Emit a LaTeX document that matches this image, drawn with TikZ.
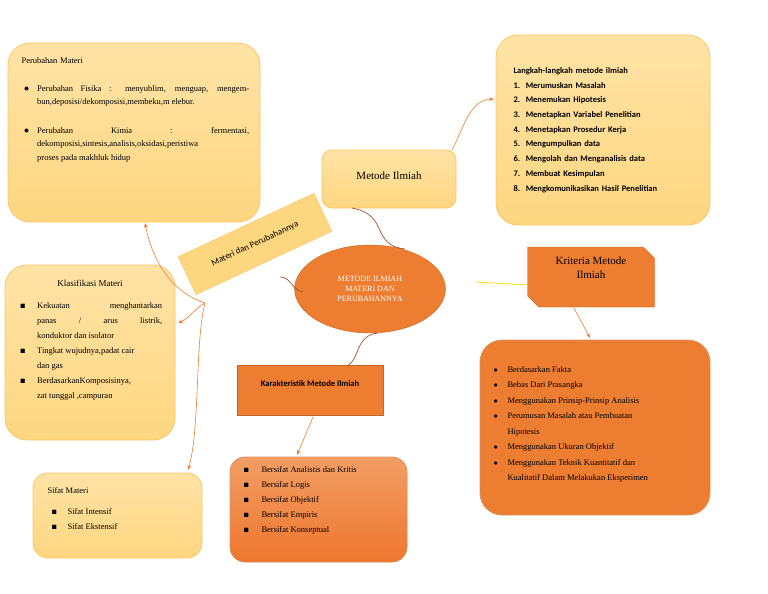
\documentclass[tikz,border=0pt]{standalone}
\usepackage{amssymb}
\usepackage{fontspec}
\setmainfont{Liberation Serif}
\newfontfamily\calfont{Carlito}
\usetikzlibrary{shapes.geometric,shapes.misc,arrows.meta}
\definecolor{lt}{HTML}{FDD680}
\definecolor{lt2}{HTML}{FFE3A6}
\definecolor{org}{HTML}{ED7D31}
\definecolor{orgd}{HTML}{C9651F}
\definecolor{brn}{HTML}{A0522D}
\tikzset{
 lbox/.style={draw=lt!80!orange, top color=lt2, bottom color=lt, rounded corners=22pt, line width=0.8pt},
 obox/.style={draw=orgd!70, fill=org, rounded corners=22pt, line width=0.8pt},
 snip/.style={draw=orgd, fill=org, chamfered rectangle, chamfered rectangle corners={north east,south west}, chamfered rectangle xsep=8pt, inner sep=0pt},
 arr/.style={draw=org, line width=0.6pt, -{Stealth[length=5pt]}},
 lnk/.style={draw=brn, line width=0.7pt},
 txt/.style={font=\fontsize{8.5}{12}\selectfont, align=left, anchor=north west, text width=#1},
}
\begin{document}
\begin{tikzpicture}[x=1pt,y=-1pt]
\useasboundingbox (0,0) rectangle (768,594);
% Perubahan Materi
\path[lbox] (8,43) rectangle (260,222);
\node[txt=230pt] (pm) at (18,54) {Perubahan Materi};
\node[anchor=north west, inner sep=0pt] (pm1) at (24,85) {\makebox[13pt][l]{$\bullet$}\parbox[t]{212pt}{\fontsize{8.5}{13.5}\selectfont Perubahan Fisika : menyublim, menguap, mengembun,deposisi/dekomposisi,membeku,m elebur.}};
\node[anchor=north west, inner sep=0pt] (pm2) at (24,127) {\makebox[13pt][l]{$\bullet$}\parbox[t]{212pt}{\fontsize{8.5}{13.5}\selectfont Perubahan \hfill Kimia \hfill : \hfill fermentasi,\\ dekomposisi,sintesis,analisis,oksidasi,peristiwa\\ proses pada makhluk hidup}};
% Metode Ilmiah
\path[lbox, rounded corners=10pt] (322,150) rectangle (456,208);
\node[font=\fontsize{11}{13}\selectfont] (mi) at (389,176) {Metode Ilmiah};
% Langkah
\path[lbox] (496,35) rectangle (710,225);
\node[txt=210pt, font=\calfont\bfseries\fontsize{8.5}{14.7}\selectfont] (lk) at (510,64) {Langkah-langkah metode ilmiah\\
1.\ \ Merumuskan Masalah\\
2.\ \ Menemukan Hipotesis\\
3.\ \ Menetapkan Variabel Penelitian\\
4.\ \ Menetapkan Prosedur Kerja\\
5.\ \ Mengumpulkan data\\
6.\ \ Mengolah dan Menganalisis data\\
7.\ \ Membuat Kesimpulan\\
8.\ \ Mengkomunikasikan Hasil Penelitian};
% Materi dan Perubahannya
\node[draw=lt!80!orange, fill=lt, minimum width=150pt, minimum height=42pt, rotate=25, font=\calfont\fontsize{9}{11}\selectfont] (md) at (255,244) {Materi dan Perubahannya};
% centre
\node[ellipse, draw=orgd, fill=org, minimum width=136pt, minimum height=88pt, text=white, align=center, font=\fontsize{8}{10}\selectfont] (c) at (370,289) {\raisebox{8pt}{\parbox{100pt}{\centering METODE ILMIAH\\MATERI DAN\\PERUBAHANNYA}}};
% Kriteria
\node[snip, minimum width=127pt, minimum height=60pt, align=center, font=\fontsize{11}{14}\selectfont] (kr) at (591,277) {Kriteria Metode\\Ilmiah\\[4pt]};
\path[obox] (480,340) rectangle (710,515);
\node[anchor=north west, font=\fontsize{8.5}{15.5}\selectfont, align=left] (krl) at (490,363) {%
\makebox[14pt][l]{$\bullet$}Berdasarkan Fakta\\
\makebox[14pt][l]{$\bullet$}Bebas Dari Prasangka\\
\makebox[14pt][l]{$\bullet$}Menggunakan Prinsip-Prinsip Analisis\\
\makebox[14pt][l]{$\bullet$}Perumusan Masalah atau Pembuatan\\\hspace*{14pt}Hipotesis\\
\makebox[14pt][l]{$\bullet$}Menggunakan Ukuran Objektif\\
\makebox[14pt][l]{$\bullet$}Menggunakan Teknik Kuantitatif dan\\\hspace*{14pt}Kualitatif Dalam Melakukan Eksperimen};
% Klasifikasi
\path[lbox] (5,265) rectangle (175,440);
\node[font=\fontsize{9}{11}\selectfont] (kl) at (90,283) {Klasifikasi Materi};
\node[anchor=north west, inner sep=0pt] (kll) at (20,302) {\makebox[17pt][l]{\tiny$\blacksquare$}\parbox[t]{125pt}{\fontsize{8.5}{15}\selectfont Kekuatan \hfill menghantarkan\\ panas \hfill / \hfill arus \hfill listrik,\\ konduktor dan isolator\\
\hspace*{-17pt}\makebox[17pt][l]{\tiny$\blacksquare$}Tingkat wujudnya,padat cair\\ dan gas\\
\hspace*{-17pt}\makebox[17pt][l]{\tiny$\blacksquare$}BerdasarkanKomposisinya,\\ zat tunggal ,campuran}};
% Karakteristik
\node[snip, minimum width=146pt, minimum height=50pt] (ka) at (310,390) {};
\node[font=\calfont\bfseries\fontsize{8.5}{10}\selectfont] (kat) at (310,384) {Karakteristik Metode Ilmiah};
\path[obox, top color=org!75!white, bottom color=org!95!red, rounded corners=15pt] (230,457) rectangle (407,562);
\node[anchor=north west, font=\fontsize{8.5}{15}\selectfont, align=left] (kal) at (240,463) {%
\makebox[18pt][l]{\tiny$\blacksquare$}Bersifat Analistis dan Kritis\\
\makebox[18pt][l]{\tiny$\blacksquare$}Bersifat Logis\\
\makebox[18pt][l]{\tiny$\blacksquare$}Bersifat Objektif\\
\makebox[18pt][l]{\tiny$\blacksquare$}Bersifat Empiris\\
\makebox[18pt][l]{\tiny$\blacksquare$}Bersifat Konseptual};
% Sifat
\path[lbox, rounded corners=15pt] (33,473) rectangle (202,558);
\node[anchor=north west, font=\fontsize{8.5}{15}\selectfont, align=left] (sf) at (44,484) {Sifat Materi\\[6pt]
\hspace*{4pt}\makebox[16pt][l]{\tiny$\blacksquare$}Sifat Intensif\\
\hspace*{4pt}\makebox[16pt][l]{\tiny$\blacksquare$}Sifat Ekstensif};
% connectors
\coordinate (a1) at (452,150); \coordinate (a2) at (494,99);
\draw[arr] (a1) .. controls (465,125) and (470,100) .. (a2);
\coordinate (b1) at (352,208); \coordinate (b2) at (405,249);
\draw[lnk] (b1) .. controls (390,215) and (370,245) .. (b2);
\coordinate (d1) at (476,282); \coordinate (d2) at (528,285);
\draw[draw=yellow!80!orange, line width=0.8pt] (d1) -- (d2);
\coordinate (e1) at (574,308); \coordinate (e2) at (590,338);
\draw[arr] (e1) -- (e2);
\coordinate (f1) at (378,333); \coordinate (f2) at (347,366);
\draw[lnk] (f1) .. controls (355,335) and (360,360) .. (f2);
\coordinate (g1) at (313,417); \coordinate (g2) at (297,455);
\draw[arr] (g1) -- (g2);
\coordinate (h1) at (303,292); \coordinate (h2) at (280,277);
\draw[lnk] (h1) .. controls (292,290) and (290,276) .. (h2);
\coordinate (s) at (205,303);
\coordinate (t1) at (145,223); \coordinate (t2) at (178,323); \coordinate (t3) at (188,470);
\draw[arr] (s) .. controls (165,290) and (150,250) .. (t1);
\draw[arr] (s) .. controls (195,308) and (190,318) .. (t2);
\draw[arr] (s) .. controls (195,340) and (200,430) .. (t3);
\end{tikzpicture}
\end{document}
